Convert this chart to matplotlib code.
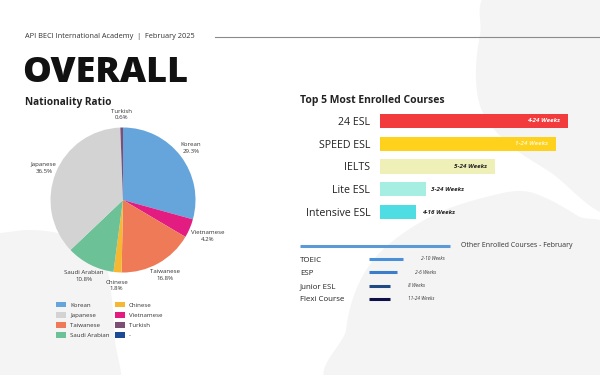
import matplotlib
matplotlib.use('Agg')
import matplotlib.pyplot as plt
import numpy as np
from matplotlib.patches import Polygon, Patch

plt.rcParams['font.family'] = ['Open Sans', 'DejaVu Sans']

# ---------------- data ----------------
nationalities = ['Korean', 'Vietnamese', 'Taiwanese', 'Chinese',
                 'Saudi Arabian', 'Japanese', 'Turkish']
shares = [29.3, 4.2, 16.8, 1.8, 10.8, 36.5, 0.6]
legend_order = ['Korean', 'Japanese', 'Taiwanese', 'Saudi Arabian',
                'Chinese', 'Vietnamese', 'Turkish', '-']

courses = ['24 ESL', 'SPEED ESL', 'IELTS', 'Lite ESL', 'Intensive ESL']
enrolled = [52, 48.7, 31.8, 12.7, 10]
durations = ['4-24 Weeks', '1-24 Weeks', '5-24 Weeks', '3-24 Weeks', '4-16 Weeks']

other_courses = ['TOEIC', 'ESP', 'Junior ESL', 'Flexi Course']
other_enrolled = [4.85, 4.0, 3.0, 3.0]
other_durations = ['2-10 Weeks', '2-6 Weeks', '8 Weeks', '11-24 Weeks']

# ---------------- styles ----------------
nat_colors = {'Korean': '#65a5dc', 'Japanese': '#d3d3d3', 'Taiwanese': '#ef7a57',
              'Saudi Arabian': '#6cc196', 'Chinese': '#f6b833', 'Vietnamese': '#e31c82',
              'Turkish': '#7d4f77', '-': '#1d4a95'}
label_dist = {'Vietnamese': 1.27}
bar_colors = ['#f23b3d', '#fdd11c', '#eef0b8', '#a6eee1', '#4fdde4']
bar_label_colors = ['white', '#fff4c4', '#222222', '#222222', '#222222']
other_colors = ['#4a90d9', '#3a7dc9', '#1f4a84', '#0e0e48']
BLOB = '#f4f4f5'
W, H = 600, 375


def px(x, y, w, h):
    return [x / W, 1 - (y + h) / H, w / W, h / H]


def smooth(points, n=24):
    p = np.asarray(points, float)
    m = len(p)
    out = []
    for i in range(m):
        p0, p1, p2, p3 = p[i - 1], p[i], p[(i + 1) % m], p[(i + 2) % m]
        t = np.linspace(0, 1, n, endpoint=False)[:, None]
        out.append(0.5 * ((2 * p1) + (-p0 + p2) * t + (2 * p0 - 5 * p1 + 4 * p2 - p3) * t ** 2
                          + (-p0 + 3 * p1 - 3 * p2 + p3) * t ** 3))
    return np.vstack(out)


fig = plt.figure(figsize=(6, 3.75), dpi=100)
fig.patch.set_facecolor('white')

bg = fig.add_axes([0, 0, 1, 1], zorder=0)
bg.set_xlim(0, W)
bg.set_ylim(H, 0)
bg.axis('off')

# background blobs
left_blob = [(-40, 236), (0, 233), (30, 230), (62, 234), (90, 246), (106, 266), (112, 300),
             (115, 340), (118, 395), (60, 420), (-40, 420)]
upper_blob = [(494, -10), (480, 35), (476, 80), (484, 115), (510, 145), (550, 172),
              (615, 212), (640, 100), (615, -10)]
lower_blob = [(343, 390), (346, 330), (356, 290), (375, 258), (405, 232), (445, 210),
              (490, 196), (522, 191), (548, 199), (578, 216), (615, 240), (615, 390)]
for b in (left_blob, upper_blob, lower_blob):
    bg.add_patch(Polygon(smooth(b), closed=True, facecolor=BLOB, edgecolor='none'))

# header
bg.text(25, 37, 'API BECI International Academy  |  February 2025', fontsize=5.35,
        color='#333333', va='center', ha='left')
bg.plot([215, 600], [37, 37], color='#8a8a8a', lw=0.8)
bg.text(22, 73, 'OVERALL', fontsize=26, fontweight='heavy', color='#111111',
        va='center', ha='left')
bg.text(25, 103, 'Nationality Ratio', fontsize=7.3, fontweight='bold', color='#222222',
        va='center', ha='left')
bg.text(300, 101, 'Top 5 Most Enrolled Courses', fontsize=7.5, fontweight='bold',
        color='#222222', va='center', ha='left')

# ---------------- pie ----------------
pax = fig.add_axes(px(123 - 72.5, 200 - 72.5, 145, 145), zorder=2)
labels = [f'{n}\n{s}%' for n, s in zip(nationalities, shares)]
wedges, texts = pax.pie(shares, labels=labels, colors=[nat_colors[n] for n in nationalities],
                        startangle=90, counterclock=False, radius=1, labeldistance=1.18,
                        textprops=dict(fontsize=4.4, color='#333333'))
for n, w, t in zip(nationalities, wedges, texts):
    ang = np.deg2rad((w.theta1 + w.theta2) / 2)
    d = label_dist.get(n, 1.18)
    t.set_position((d * np.cos(ang), d * np.sin(ang)))
    t.set_ha('center')
    t.set_va('center')
    t.set_multialignment('center')
    t.set_linespacing(1.4)
pax.set_xlim(-1, 1)
pax.set_ylim(-1, 1)
pax.set_aspect('equal')

handles = [Patch(facecolor=nat_colors[n], edgecolor='none', label=n) for n in legend_order]
leg = pax.legend(handles=handles, loc='upper left', bbox_to_anchor=(56 / W, 1 - 302 / H),
                 bbox_transform=fig.transFigure, ncol=2, frameon=False, fontsize=4.4,
                 handlelength=1.6, handleheight=1.0, labelspacing=0.7, columnspacing=0.85,
                 handletextpad=0.7, borderpad=0, borderaxespad=0)
for t in leg.get_texts():
    t.set_color('#333333')

# ---------------- top 5 bars ----------------
pitch = 22.75
bax = fig.add_axes(px(380, 121 - pitch / 2, 200, 5 * pitch), zorder=2)
bax.patch.set_alpha(0)
ypos = np.arange(len(courses))
bax.barh(ypos, enrolled, height=0.62, color=bar_colors)
bax.set_xlim(0, 200 / 3.615)
bax.set_ylim(len(courses) - 0.5, -0.5)
bax.set_yticks(ypos)
bax.set_yticklabels(courses, fontsize=7.7, color='#222222')
bax.tick_params(axis='y', length=0, pad=7)
bax.set_xticks([])
for s in bax.spines.values():
    s.set_visible(False)
for i, (v, d) in enumerate(zip(enrolled, durations)):
    inside = v > 20
    bax.annotate(d, xy=(v, i), xytext=(-5.5 if inside else 4, 0), textcoords='offset points',
                 ha='right' if inside else 'left', va='center', fontsize=4.5,
                 fontweight='bold', fontstyle='italic', color=bar_label_colors[i])

# ---------------- other courses ----------------
bg.plot([300, 450], [245.7, 245.7], color='#5b9bd5', lw=2.2, solid_capstyle='butt')
bg.text(461, 245.7, 'Other Enrolled Courses - February', fontsize=5.05, color='#333333',
        va='center', ha='left')

opitch = 13.3
oax = fig.add_axes(px(369, 259 - opitch / 2, 100, 4 * opitch), zorder=2)
oax.patch.set_alpha(0)
oy = np.arange(len(other_courses))
oax.hlines(oy, 0, other_enrolled, colors=other_colors, lw=2.2)
oax.set_xlim(0, 100 / 7)
oax.set_ylim(len(other_courses) - 0.5, -0.5)
oax.set_yticks(oy)
oax.set_yticklabels(other_courses, fontsize=5.7, color='#222222', ha='left')
oax.tick_params(axis='y', length=0, pad=69 * 0.72)
oax.set_xticks([])
for s in oax.spines.values():
    s.set_visible(False)
for i, (v, d) in enumerate(zip(other_enrolled, other_durations)):
    oax.annotate(d, xy=(v, i), xytext=(13, 0), textcoords='offset points', ha='left',
                 va='center', fontsize=3.4, fontstyle='italic', color='#333333')

fig.savefig('out.png', dpi=100, facecolor='white')
